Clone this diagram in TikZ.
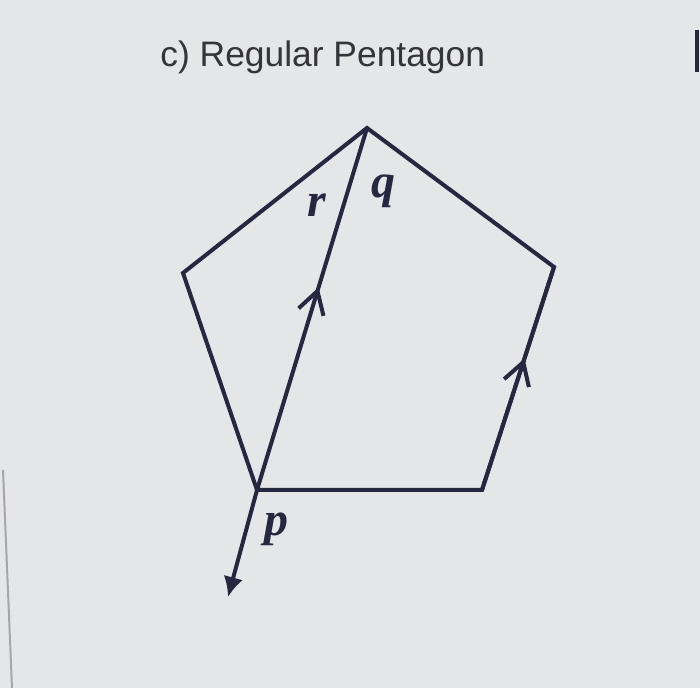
\documentclass[tikz,border=0pt]{standalone}
\usepackage{fontspec}
\setmainfont{Liberation Serif}
\newfontfamily\titelfont{Liberation Sans}
\usetikzlibrary{arrows.meta,decorations.markings}

\definecolor{papier}{RGB}{228,230,232}
\definecolor{tinte}{RGB}{38,40,66}
\definecolor{schrift}{RGB}{52,52,58}

\def\ecke#1{\node[inner sep=0mm,anchor=base,font=\fontsize{24}{24}\selectfont\bfseries\itshape,text=tinte] #1}

\begin{document}
\begin{tikzpicture}[x=0.5pt,y=-0.5pt,
    kante/.style={draw=tinte,line width=2pt,line join=miter},
    mitte/.style={postaction={decorate},decoration={markings,
      mark=at position #1 with {\arrow{Straight Barb[length=11pt,width=13pt,line width=2pt]}}}}]
    % Hintergrund
    \fill[papier] (0,0) rectangle (700,688);
    \useasboundingbox (0,0) rectangle (700,688);
    \draw[gray!70,line width=1pt] (3,470) -- (12,688);
    \draw[tinte,line width=2pt] (697,30) -- (697,72);
    % Titel
    \node[anchor=base west,inner sep=0mm,text=schrift,font=\titelfont\fontsize{17.7}{20}\selectfont] (titel) at (160,67) {c) Regular Pentagon};
    % Ecken
    \coordinate (T) at (367,128);
    \coordinate (R) at (554,267);
    \coordinate (BR) at (482,490);
    \coordinate (P) at (257,490);
    \coordinate (L) at (183,273);
    \coordinate (E) at (228,597);
    % Fuenfeck
    \draw[kante] (T) -- (R) -- (BR) -- (P) -- (L) -- cycle;
    \path[kante,mitte=0.59] (BR) -- (R);
    % Diagonale
    \path[kante,mitte=0.56] (P) -- (T);
    \draw[kante,-{Latex[length=10pt,width=10pt]}] (P) -- (E);
    % Winkel
    \ecke{(r) at (317,217) {r};}
    \ecke{(q) at (383,198) {q};}
    \ecke{(p) at (276,535) {p};}
\end{tikzpicture}
\end{document}
